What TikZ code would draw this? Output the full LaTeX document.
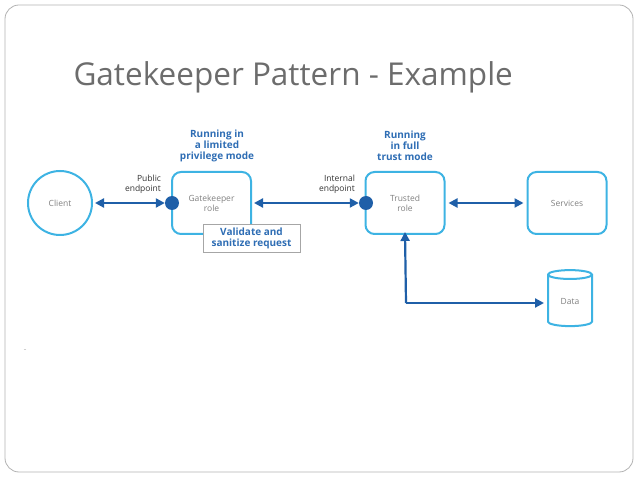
\documentclass[tikz,border=0pt]{standalone}
\usepackage{fontspec}
\setmainfont{Open Sans}
\usetikzlibrary{arrows.meta,shapes.geometric}
\definecolor{lb}{HTML}{3DB3E3}
\definecolor{db}{HTML}{1F5FA8}
\definecolor{tb}{HTML}{2E6DB4}
\tikzset{x=1pt,y=-1pt,
box/.style={draw=lb,line width=2pt,rounded corners=9pt,minimum width=79pt,minimum height=62pt,align=center,text=gray,font=\fontsize{8.5}{10}\selectfont},
arr/.style={draw=db,line width=2.2pt,{Triangle[length=9pt,width=9pt]}-{Triangle[length=9pt,width=9pt]}},
one/.style={draw=db,line width=2.2pt,-{Triangle[length=9pt,width=9pt]}},
dot/.style={circle,fill=db,inner sep=0pt,minimum size=14pt},
hd/.style={text=tb,font=\bfseries\fontsize{10}{11}\selectfont,align=center},
lab/.style={font=\fontsize{8.5}{10}\selectfont,align=right,text=black!80}}
\begin{document}
\begin{tikzpicture}
\useasboundingbox (0,0) rectangle (638,478);
\draw[gray!60,line width=0.8pt,rounded corners=14pt] (5,5) rectangle (633,472);
\node[anchor=base west,text=gray!85!black,font=\fontsize{31.5}{34}\selectfont] (title) at (70,86) {Gatekeeper Pattern - Example};
\node[text=gray,font=\tiny] (dash) at (25,351) {--};
\node[circle,draw=lb,line width=2pt,minimum size=64pt,text=gray,font=\fontsize{8.5}{10}\selectfont] (client) at (60,203) {Client};
\node[box] (gk) at (211.5,203) {Gatekeeper\\role};
\node[box] (tr) at (405,203) {Trusted\\role};
\node[box] (sv) at (567,203) {Services};
\node[cylinder,shape border rotate=90,draw=lb,line width=2pt,minimum width=44pt,minimum height=56pt,aspect=0.35,text=gray,font=\fontsize{8.5}{10}\selectfont,fill=white] (data) at (570,302) {Data};
\node[dot] (ep1) at (172,203) {};
\node[dot] (ep2) at (366,203) {};
\node[draw=gray!70,fill=white,hd,minimum width=97pt,minimum height=28pt,inner sep=1pt] (val) at (251.5,238) {Validate and\\sanitize request};
\node[hd] (h1) at (217,146) {Running in\\a limited\\privilege mode};
\node[hd] (h2) at (405,146) {Running\\in full\\trust mode};
\node[lab] (l1) at (143,184) {Public\\endpoint};
\node[lab] (l2) at (337,184) {Internal\\endpoint};
\coordinate (c) at (406,303);
\draw[arr] (client.east) ++(2,0) -- (ep1.west);
\draw[arr] ([xshift=2pt]gk.east) -- (ep2.west);
\draw[arr] ([xshift=3pt]tr.east) -- ([xshift=-3pt]sv.west);
\draw[one] (c) -- ([yshift=3pt]tr.south);
\draw[one] (c) -- ([xshift=-3pt]data.west|-c);
\end{tikzpicture}
\end{document}
